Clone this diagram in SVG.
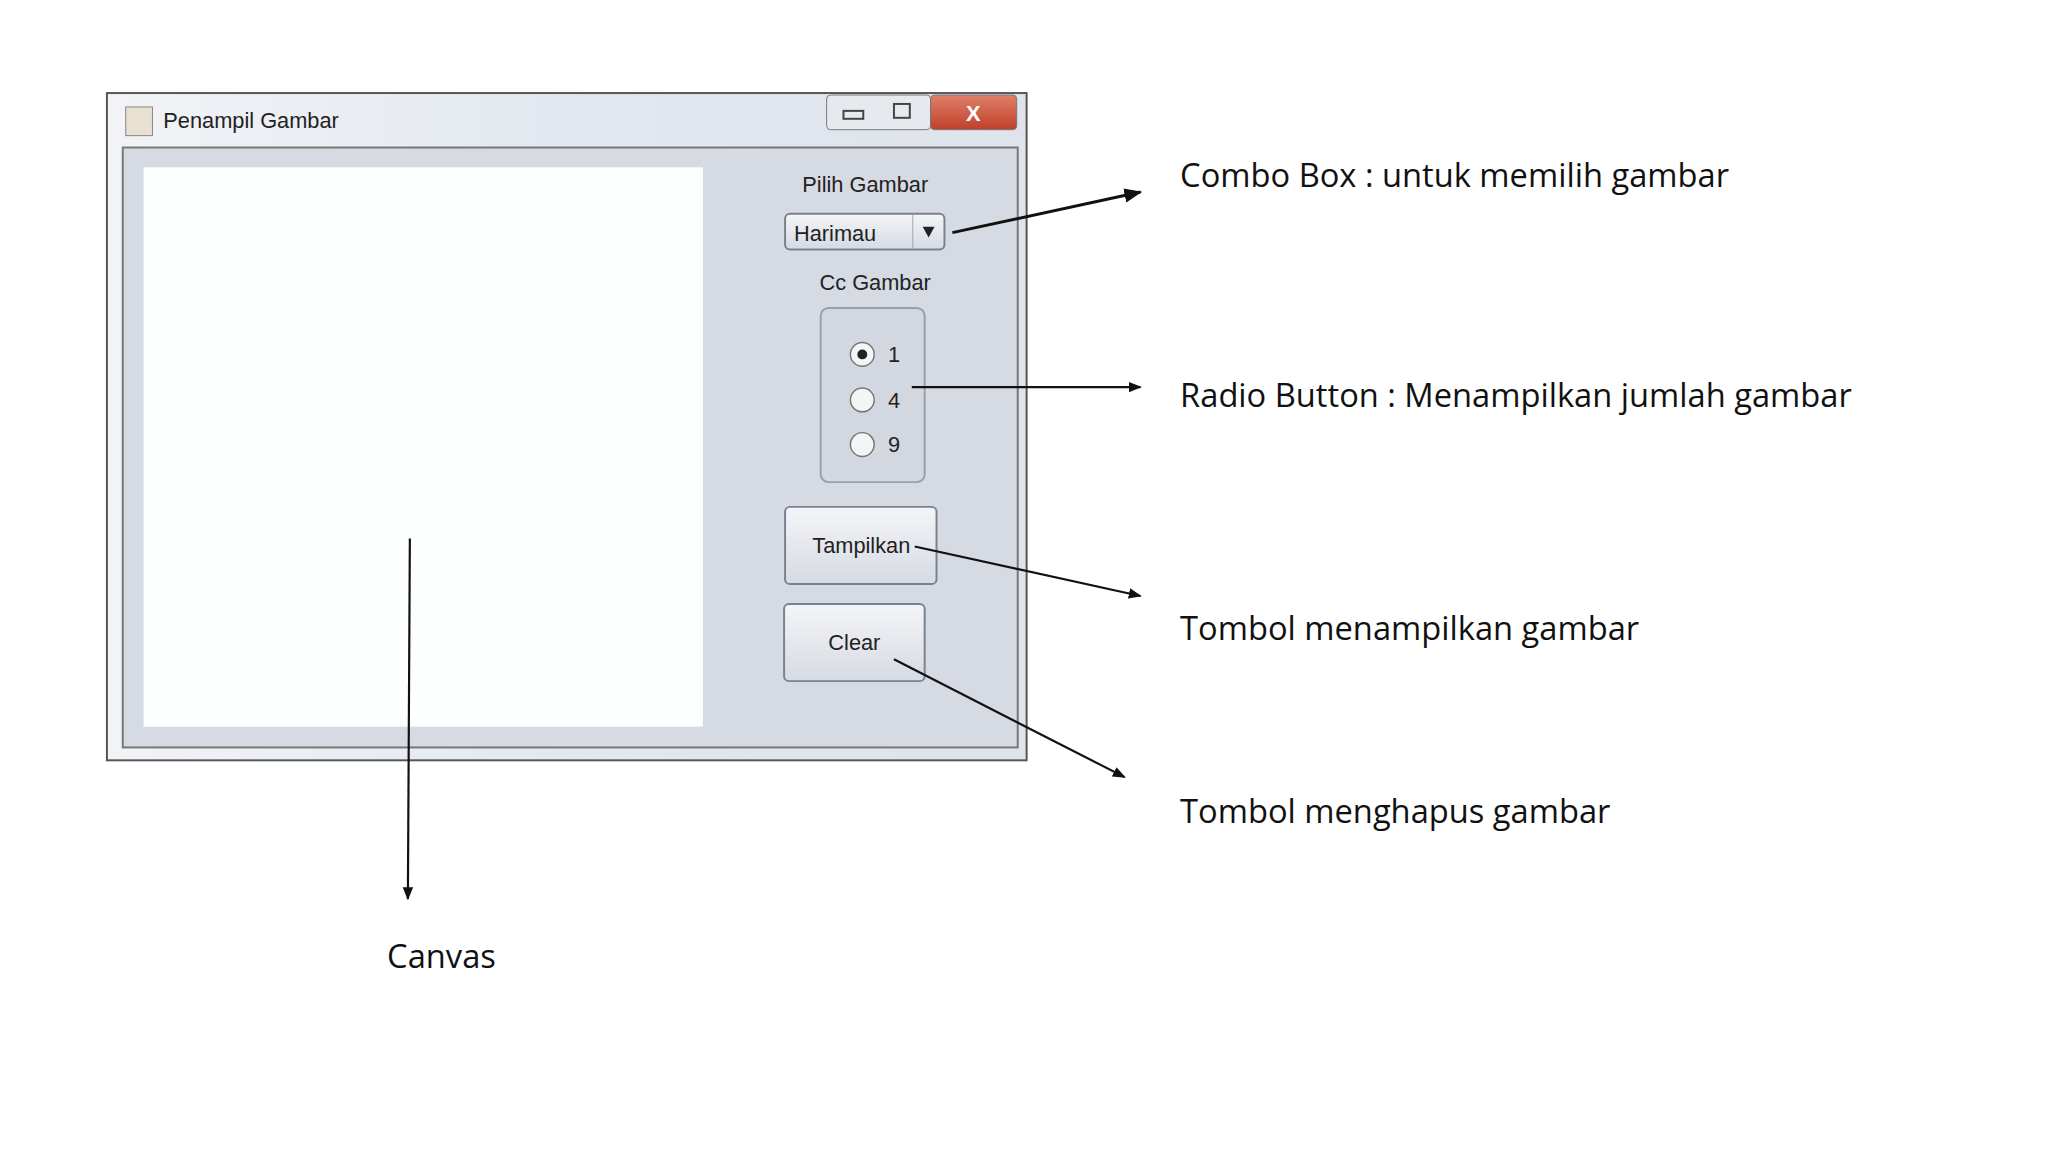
<svg xmlns="http://www.w3.org/2000/svg" width="2048" height="1152" viewBox="0 0 2048 1152">
<style>
.ui{font-family:"Liberation Sans",Arial,sans-serif;font-size:22px;fill:#222}
.lbl{font-family:"Open Sans","Noto Sans",sans-serif;font-size:33px;fill:#111}
.c{stroke:#111;stroke-width:2.2;fill:none;marker-end:url(#ah)}
.btn{fill:url(#bg);stroke:#7a8290;stroke-width:2}
</style>
<defs>
<marker id="ah" viewBox="0 0 10 10" refX="9" refY="5" markerWidth="6" markerHeight="6" orient="auto" markerUnits="strokeWidth"><path d="M0,1 L10,5 L0,9 z" fill="#111"/></marker>
<linearGradient id="bg" x1="0" y1="0" x2="0" y2="1"><stop offset="0" stop-color="#f4f5f8"/><stop offset="1" stop-color="#d6dae2"/></linearGradient>
<linearGradient id="tb" x1="0" y1="0" x2="1" y2="0"><stop offset="0" stop-color="#f1f3f6"/><stop offset="0.5" stop-color="#e3e8f0"/><stop offset="1" stop-color="#dfe4ec"/></linearGradient>
<linearGradient id="cl" x1="0" y1="0" x2="0" y2="1"><stop offset="0" stop-color="#e0806a"/><stop offset="1" stop-color="#c0402a"/></linearGradient>
</defs>
<rect width="2048" height="1152" fill="#fff"/>
<g transform="scale(0.99)">
<g id="window">
<rect x="108" y="94" width="929" height="674" fill="url(#tb)" stroke="#555" stroke-width="2"/>
<rect x="127" y="108" width="27" height="29" fill="#e8e0d0" stroke="#888"/>
<text class="ui" x="165" y="129">Penampil Gambar</text>
<rect x="835" y="96" width="105" height="35" rx="4" fill="#e6e9ee" stroke="#777"/>
<rect x="852" y="112" width="20" height="8" fill="none" stroke="#444" stroke-width="2"/>
<rect x="903" y="105" width="16" height="14" fill="none" stroke="#444" stroke-width="2"/>
<rect x="940" y="96" width="87" height="35" rx="4" fill="url(#cl)" stroke="#777"/>
<text x="983" y="122" text-anchor="middle" font-family="Liberation Sans,sans-serif" font-weight="bold" font-size="22" fill="#fff">X</text>
<rect x="124" y="149" width="904" height="606" fill="#d6dae2" stroke="#777" stroke-width="2"/>
</g>
<g id="canvas"><rect x="145" y="169" width="565" height="565" fill="#fdfefe"/></g>
<g id="combo">
<text class="ui" x="874" y="194" text-anchor="middle">Pilih Gambar</text>
<rect x="793" y="216" width="161" height="36" rx="5" class="btn"/>
<line x1="922" y1="217" x2="922" y2="251" stroke="#9aa"/>
<path d="M932,229 L944,229 L938,240 z" fill="#222"/>
<text class="ui" x="802" y="243">Harimau</text>
</g>
<g id="radio">
<text class="ui" x="884" y="293" text-anchor="middle">Cc Gambar</text>
<rect x="829" y="311" width="105" height="176" rx="8" fill="#d3d7df" stroke="#9aa0ab" stroke-width="2"/>
<circle cx="871" cy="358" r="12" fill="#f4f5f7" stroke="#777" stroke-width="1.5"/><circle cx="871" cy="358" r="5" fill="#222"/>
<circle cx="871" cy="404" r="12" fill="#f4f5f7" stroke="#777" stroke-width="1.5"/>
<circle cx="871" cy="449" r="12" fill="#f4f5f7" stroke="#777" stroke-width="1.5"/>
<text class="ui" x="897" y="366">1</text><text class="ui" x="897" y="412">4</text><text class="ui" x="897" y="457">9</text>
</g>
<g id="tampilkan"><rect x="793" y="512" width="153" height="78" rx="5" class="btn"/><text class="ui" x="870" y="559" text-anchor="middle">Tampilkan</text></g>
<g id="clear"><rect x="792" y="610" width="142" height="78" rx="5" class="btn" stroke-width="3" stroke="#6a7a90"/><text class="ui" x="863" y="657" text-anchor="middle">Clear</text></g>
<g id="connectors">
<line class="c" x1="962" y1="235" x2="1152" y2="194" style="stroke-width:3"/>
<line class="c" x1="921" y1="391" x2="1152" y2="391"/>
<line class="c" x1="924" y1="552" x2="1152" y2="602"/>
<line class="c" x1="903" y1="666" x2="1136" y2="785"/>
<line class="c" x1="414" y1="544" x2="412" y2="908"/>
</g>
<g id="labels">
<text class="lbl" x="1192" y="189">Combo Box : untuk memilih gambar</text>
<text class="lbl" x="1192" y="411">Radio Button : Menampilkan jumlah gambar</text>
<text class="lbl" x="1192" y="646">Tombol menampilkan gambar</text>
<text class="lbl" x="1192" y="831">Tombol menghapus gambar</text>
<text class="lbl" x="391" y="978">Canvas</text>
</g>
</g>
</svg>
